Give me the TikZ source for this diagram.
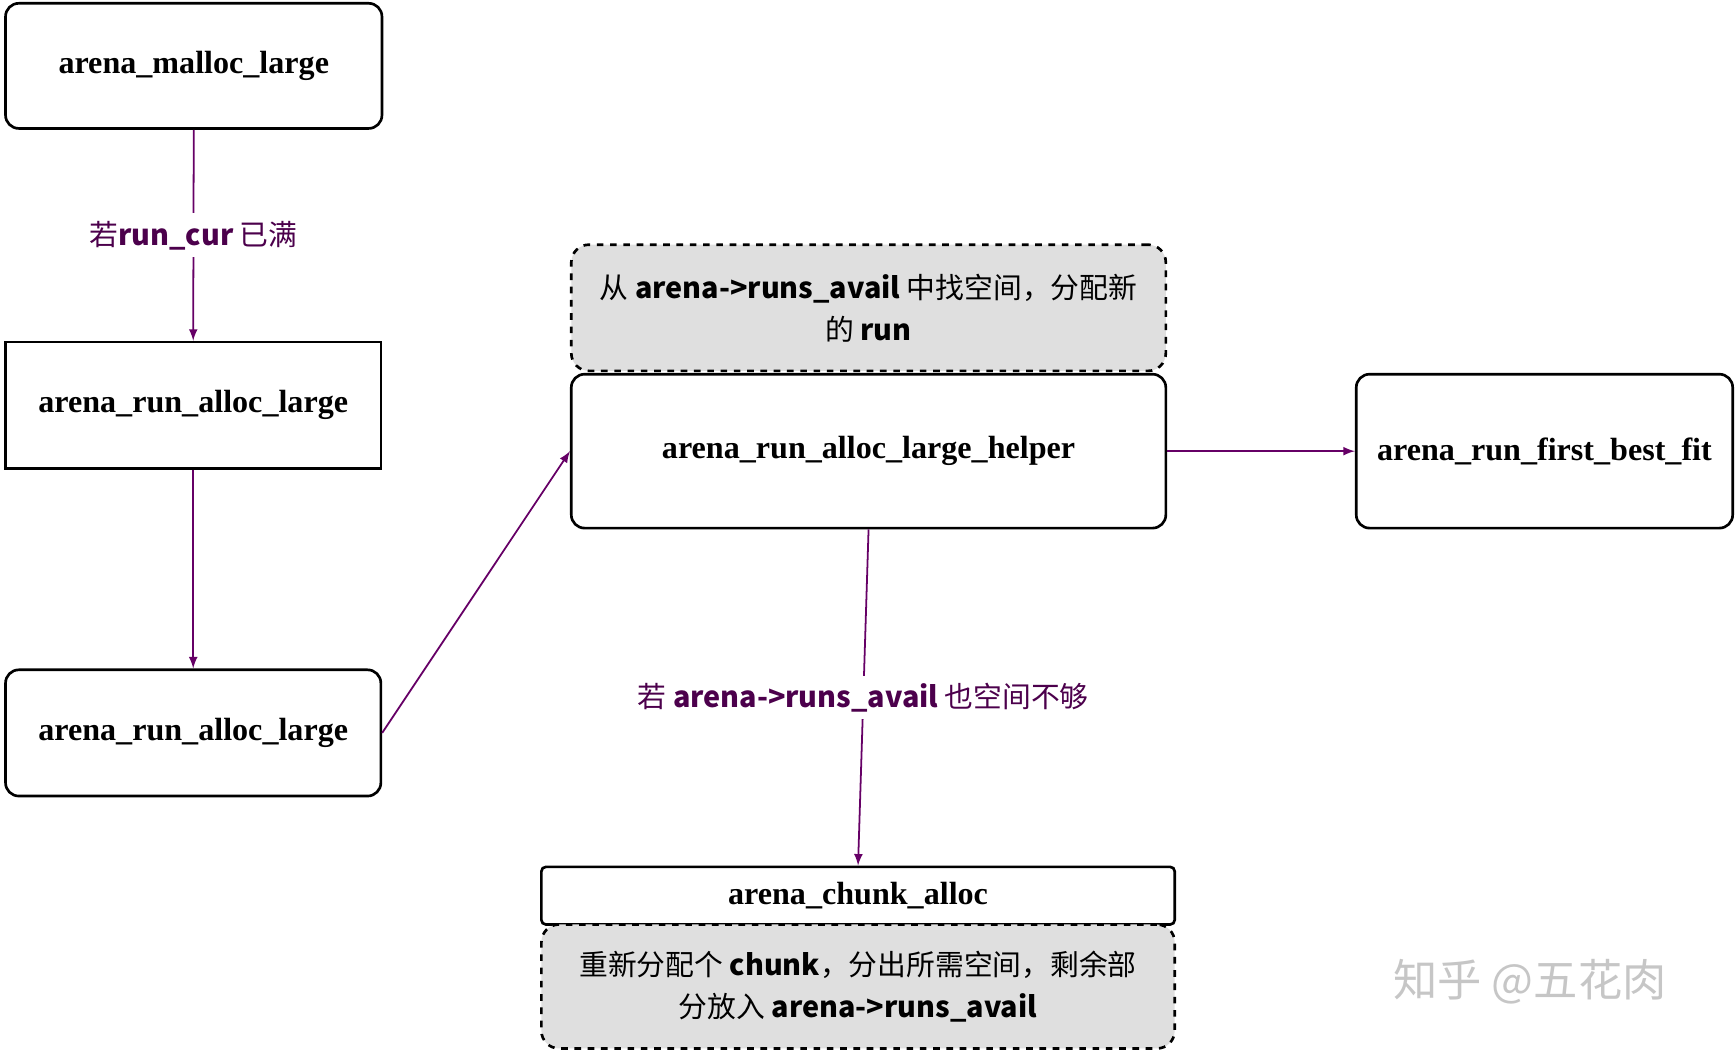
\documentclass[tikz,border=0pt]{standalone}
\usepackage{fontspec}
\setmainfont{Liberation Serif}
\newfontfamily\cjk{Noto Sans CJK SC}
\begin{document}
\begin{tikzpicture}[x=0.5pt,y=-0.5pt,
  box/.style={draw,line width=1.2pt,rounded corners=6pt,inner sep=0pt,font=\bfseries\fontsize{14.5}{16}\selectfont},
  note/.style={draw,dashed,line width=1.2pt,fill=gray!25,rounded corners=8pt,inner sep=0pt,align=center,font=\fontsize{13}{19}\selectfont},
  arr/.style={draw=violet!80!black,line width=0.8pt,-latex},
  lbl/.style={text=violet!60!black,font=\fontsize{13}{15}\selectfont}]
\useasboundingbox (0,0) rectangle (1568,952);
\node[box,minimum width=170pt,minimum height=56.5pt] (a) at (175,59.5) {arena\_malloc\_large};
\node[box,minimum width=169.5pt,minimum height=57pt,rounded corners=0pt] (b) at (174.5,366) {arena\_run\_alloc\_large};
\node[box,minimum width=169.5pt,minimum height=57pt] (c) at (174.5,662) {arena\_run\_alloc\_large};
\node[note,minimum width=268.5pt,minimum height=57pt] (n1) at (784.5,278) {\cjk 从 \textbf{arena->runs\_avail} 中找空间，分配新\\\cjk 的 \textbf{run}};
\node[box,minimum width=268.5pt,minimum height=69.5pt] (h) at (784.5,407.5) {arena\_run\_alloc\_large\_helper};
\node[box,minimum width=170pt,minimum height=69.5pt] (f) at (1395,407.5) {arena\_run\_first\_best\_fit};
\node[box,minimum width=286pt,minimum height=26pt,rounded corners=2pt] (ch) at (775,809) {arena\_chunk\_alloc};
\node[note,minimum width=286pt,minimum height=56pt] (n2) at (775,891) {\cjk 重新分配个 \textbf{chunk}，分出所需空间，剩余部\\\cjk 分放入 \textbf{arena->runs\_avail}};
\draw[arr] (a.south) -- node[lbl,fill=white]{\cjk 若\textbf{run\_cur} 已满} (b.north);
\draw[arr] (b.south) -- (c.north);
\draw[arr] (c.east) -- (h.west);
\draw[arr] (h.east) -- (f.west);
\draw[arr] (h.south) -- node[lbl,fill=white]{\cjk 若 \textbf{arena->runs\_avail} 也空间不够} (ch.north);
\node[text=gray!45,font=\cjk\fontsize{20}{22}\selectfont] (wm) at (1382,887) {知乎 @五花肉};
\end{tikzpicture}
\end{document}
